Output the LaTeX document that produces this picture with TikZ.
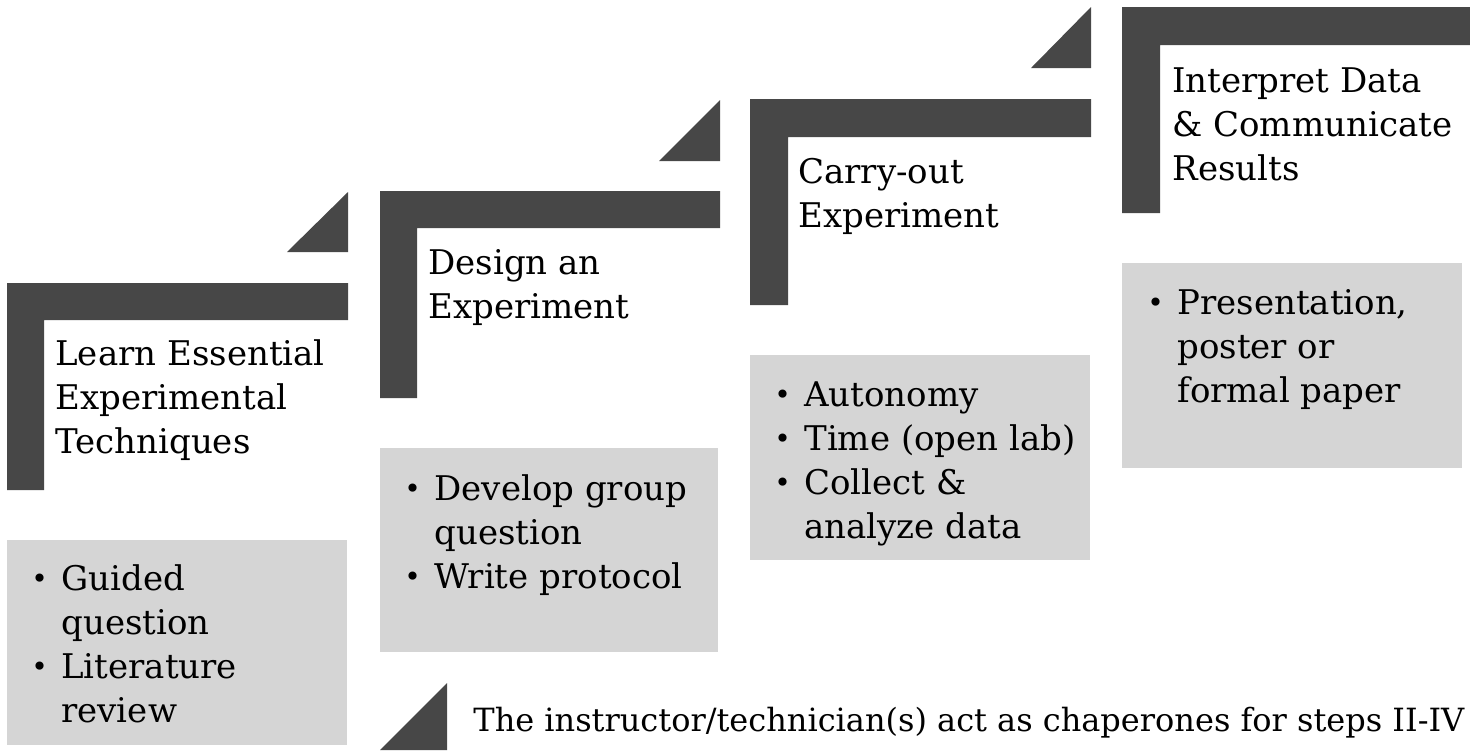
\documentclass[tikz,border=0pt]{standalone}
\usepackage{fontspec}
\setmainfont{DejaVu Serif}
\definecolor{darkbar}{HTML}{474747}
\definecolor{lightbox}{HTML}{D5D5D5}
\newcommand{\mlines}[1]{\begin{tabular}[t]{@{}l@{}}#1\end{tabular}}
\newcommand{\blist}[1]{\begin{tabular}[t]{@{}p{15pt}@{}l@{}}#1\end{tabular}}
\newcommand{\bul}{\raisebox{0.05em}{\fontsize{14}{14}\selectfont •}}
\tikzset{
  bar/.style={fill=darkbar, draw=none},
  panel/.style={fill=lightbox, draw=none},
  title/.style={anchor=base west, inner sep=0pt, font=\fontsize{17}{22}\selectfont, text=black},
  items/.style={anchor=base west, inner sep=0pt, font=\fontsize{17}{22}\selectfont, text=black},
}
\begin{document}
\begin{tikzpicture}[x=0.5pt, y=-0.5pt]
\useasboundingbox (0,0) rectangle (1470,750);
% step 1
\path[bar] (7,283) -- (348,283) -- (348,320) -- (44,320) -- (44,490) -- (7,490) -- cycle;
\path[bar] (287,252) -- (348,252) -- (348,192) -- cycle;
\path[panel] (7,540) rectangle (347,745);
\node[title] (t1) at (55,365) {\mlines{Learn Essential\\Experimental\\Techniques}};
\node[items] (b1) at (31,590) {\blist{\bul & Guided\\ & question\\ \bul & Literature\\ & review}};
% step 2
\path[bar] (380,191) -- (720,191) -- (720,228) -- (417,228) -- (417,398) -- (380,398) -- cycle;
\path[bar] (659,161) -- (720,161) -- (720,100) -- cycle;
\path[panel] (380,448) rectangle (718,652);
\node[title] (t2) at (428,274) {\mlines{Design an\\Experiment}};
\node[items] (b2) at (404,500) {\blist{\bul & Develop group\\ & question\\ \bul & Write protocol}};
% step 3
\path[bar] (750,99) -- (1091,99) -- (1091,137) -- (788,137) -- (788,305) -- (750,305) -- cycle;
\path[bar] (1031,68) -- (1091,68) -- (1091,7) -- cycle;
\path[panel] (750,355) rectangle (1090,560);
\node[title] (t3) at (798,183) {\mlines{Carry-out\\Experiment}};
\node[items] (b3) at (774,406) {\blist{\bul & Autonomy\\ \bul & Time (open lab)\\ \bul & Collect \&\\ & analyze data}};
% step 4
\path[bar] (1122,7) -- (1470,7) -- (1470,45) -- (1160,45) -- (1160,213) -- (1122,213) -- cycle;
\path[panel] (1122,263) rectangle (1462,468);
\node[title] (t4) at (1172,92) {\mlines{Interpret Data\\\& Communicate\\Results}};
\node[items] (b4) at (1147,314) {\blist{\bul & Presentation,\\ & poster or\\ & formal paper}};
% legend
\path[bar] (447,683) -- (447,750) -- (380,750) -- cycle;
\node[anchor=base west, inner sep=0pt, font=\fontsize{16}{20}\selectfont] (note) at (473,731) {The instructor/technician(s) act as chaperones for steps II-IV};
\end{tikzpicture}
\end{document}
